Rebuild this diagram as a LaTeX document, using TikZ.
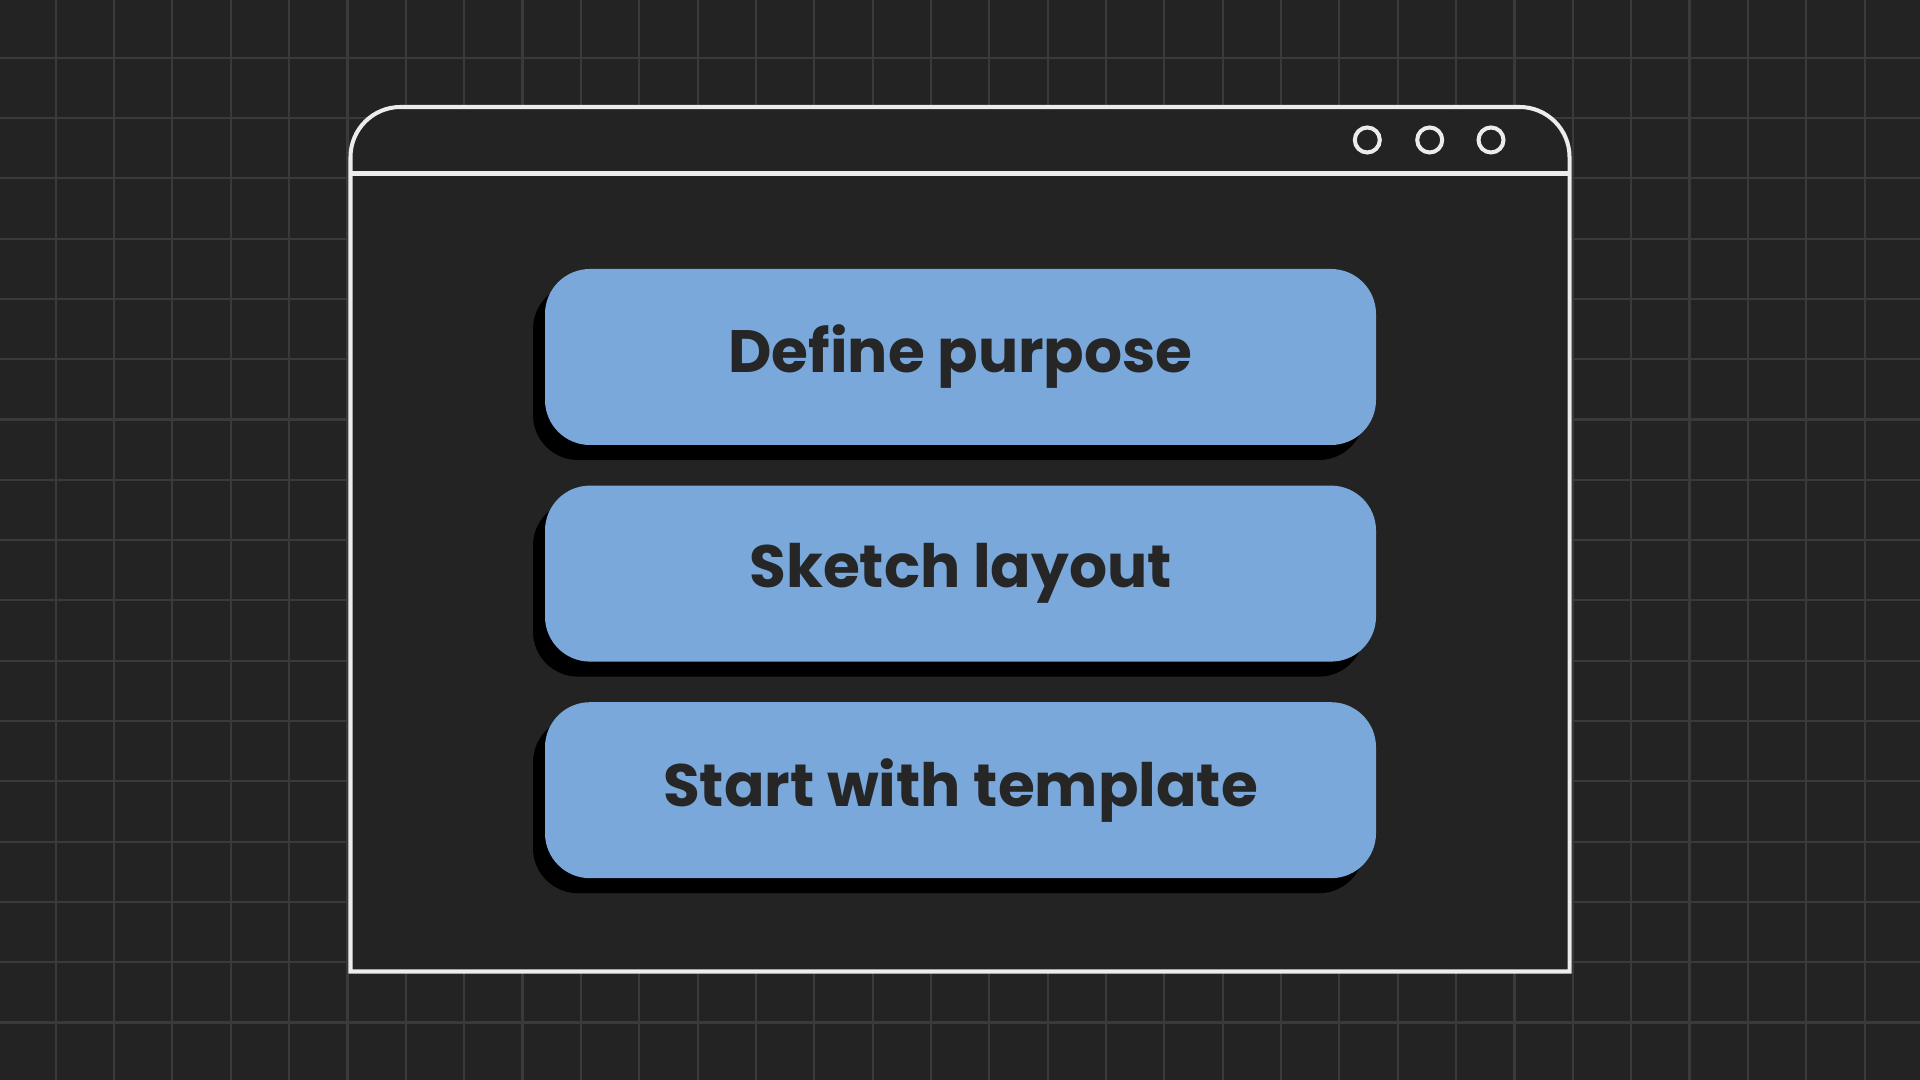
\documentclass[tikz,border=0pt]{standalone}
\usepackage{fontspec}
\setmainfont{Poppins}
\usepackage{tikz}
\usetikzlibrary{positioning, shadows}
\definecolor{bgColor}{HTML}{232323}
\definecolor{gridColor}{HTML}{3A3A3A}
\definecolor{frameColor}{HTML}{ECECEC}
\definecolor{btnColor}{RGB}{122, 168, 218}
\definecolor{txtColor}{HTML}{262626}

\begin{document}
\begin{tikzpicture}[
    node distance = 3.92mm,
    gridline/.style = {gridColor, line width=0.6pt},
    frame/.style = {frameColor, line width=1.15pt},
    btn/.style = {fill=btnColor, rounded corners=4.5mm,
        minimum width=8.31cm, minimum height=1.76cm,
        text=txtColor, font=\fontsize{17}{20}\selectfont\bfseries,
        general shadow={fill=black, shadow xshift=-1.2mm, shadow yshift=-1.5mm}}
  ]
  \fill[bgColor] (0,0) rectangle (19.2,10.8);
  \useasboundingbox (0,0) rectangle (19.2,10.8);

  % grid
  \foreach \i in {0,...,31}
  \draw[gridline] ({0.557+0.5835*\i},0) -- ({0.557+0.5835*\i},10.8);
  \foreach \j in {0,...,16}
  \draw[gridline] (0,{10.223-0.603*\j}) -- (19.2,{10.223-0.603*\j});

  % window
  \draw[frame, fill=bgColor] (3.505,1.085) -- (3.505,9.23)
    arc[start angle=180, end angle=90, radius=0.5] -- (15.195,9.73)
    arc[start angle=90, end angle=0, radius=0.5] -- (15.695,1.085) -- cycle;
  \draw[frame] (3.505,9.065) -- (15.695,9.065);
  \foreach \x in {13.673, 14.297, 14.91}
  \draw[frame] (\x,9.40) circle[radius=0.125];

  % buttons
  \node[btn] (purpose) at (9.605,7.23) {Define purpose};
  \node[btn, below=of purpose] (layout) {Sketch layout};
  \node[btn, below=of layout] (template) {Start with template};
\end{tikzpicture}
\end{document}
